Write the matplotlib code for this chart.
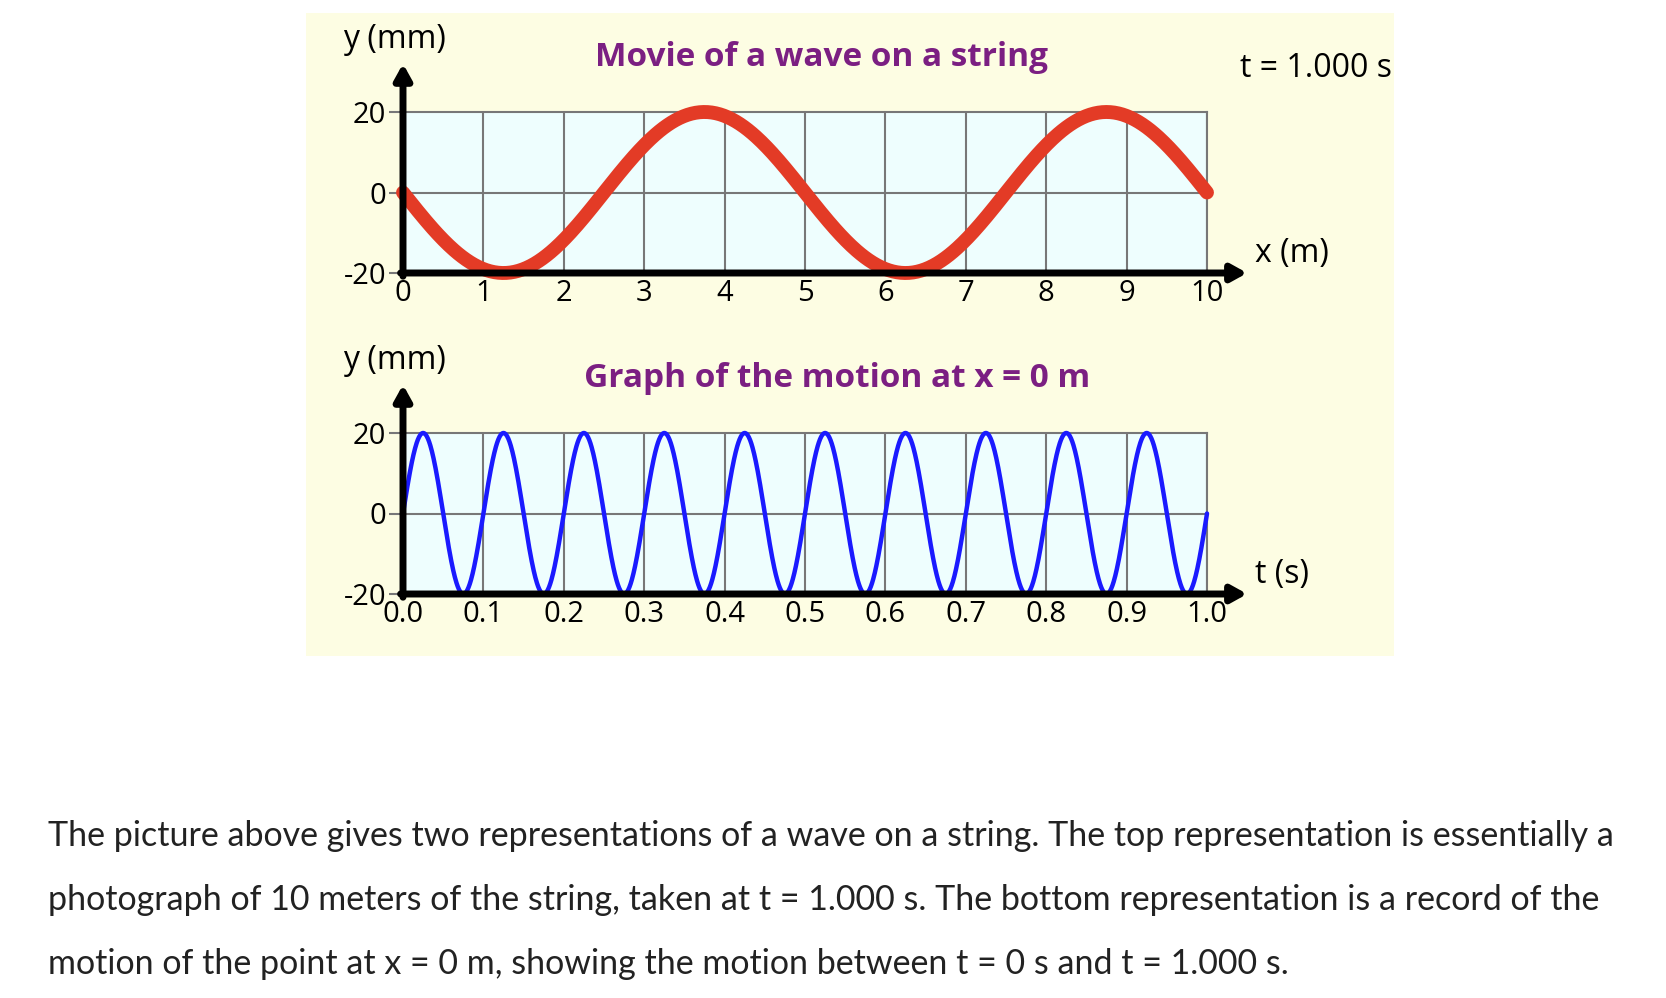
import numpy as np
import matplotlib
matplotlib.use("Agg")
import matplotlib.pyplot as plt
from matplotlib.patches import Rectangle

# data
x_ticks = [0, 1, 2, 3, 4, 5, 6, 7, 8, 9, 10]
t_ticks = [0.0, 0.1, 0.2, 0.3, 0.4, 0.5, 0.6, 0.7, 0.8, 0.9, 1.0]
y_ticks = [-20, 0, 20]
amplitude_mm = 20
wavelength_m = 5.0
period_s = 0.1
x_vals = np.linspace(0, 10, 600)
t_vals = np.linspace(0, 1.0, 2000)
y_string = -amplitude_mm * np.sin(2 * np.pi * x_vals / wavelength_m)
y_motion = amplitude_mm * np.sin(2 * np.pi * t_vals / period_s)

W, H = 1666, 998
fig = plt.figure(figsize=(W / 100, H / 100), dpi=100)
fig.patch.set_facecolor("white")
FONT = "Open Sans"

fig.patches.append(Rectangle((306 / W, 1 - 656 / H), 1088 / W, 643 / H,
                             transform=fig.transFigure, facecolor="#fdfde3",
                             edgecolor="none", zorder=-5))

def panel(bottom_px, xs, ys, ticks, labels, color, lw, xlabel, title, title_x):
    left, right, top, bot = 403, 1207, bottom_px - 161, bottom_px
    ax = fig.add_axes([left / W, 1 - bot / H, (right - left) / W, (bot - top) / H])
    ax.set_zorder(2)
    ax.set_facecolor("#eefefe")
    ax.set_xlim(ticks[0], ticks[-1])
    ax.set_ylim(-20, 20)
    for s in ["top", "right"]:
        ax.spines[s].set_color("#777777")
        ax.spines[s].set_linewidth(1.5)
    for s in ["left", "bottom"]:
        ax.spines[s].set_visible(False)
    for v in ticks[1:]:
        ax.axvline(v, color="#777777", lw=1.5, zorder=1)
    ax.axhline(0, color="#777777", lw=1.5, zorder=1)
    ax.set_xticks(ticks)
    ax.set_xticklabels(labels, fontsize=21, family=FONT)
    ax.set_yticks(y_ticks)
    ax.set_yticklabels([str(v) for v in y_ticks], fontsize=21, family=FONT)
    ax.tick_params(axis="y", length=10, width=1.5, color="#777777", pad=2)
    ax.tick_params(axis="x", length=0, pad=4)
    ax.plot(xs, ys, color=color, lw=lw, solid_capstyle="round", zorder=3, clip_on=False)
    ax.annotate("", xy=(0, 1.3), xytext=(0, -0.02), xycoords="axes fraction",
                arrowprops=dict(arrowstyle="-|>,head_width=0.5,head_length=0.9",
                                color="black", lw=5, shrinkA=0, shrinkB=0), zorder=4)
    ax.annotate("", xy=(1.05, 0), xytext=(-0.003, 0), xycoords="axes fraction",
                arrowprops=dict(arrowstyle="-|>,head_width=0.5,head_length=0.9",
                                color="black", lw=5, shrinkA=0, shrinkB=0), zorder=4)
    ax.text(1.06, 0.02, xlabel, transform=ax.transAxes, fontsize=23, family=FONT,
            va="bottom", ha="left")
    ax.text(-0.075, 1.45, "y (mm)", transform=ax.transAxes, fontsize=23, family=FONT,
            va="center", ha="left")
    ax.text(title_x, 1.34, title, transform=ax.transAxes, fontsize=24, family=FONT,
            fontweight="bold", color="#7b1f82", va="center", ha="center")
    return ax

ax1 = panel(273, x_vals, y_string, x_ticks, [str(v) for v in x_ticks],
            "#e33b26", 10, "x (m)", "Movie of a wave on a string", 0.52)
ax1.text(1.23, 1.27, "t = 1.000 s", transform=ax1.transAxes, fontsize=23,
         family=FONT, va="center", ha="right")
ax2 = panel(594, t_vals, y_motion, t_ticks, [f"{v:.1f}" for v in t_ticks],
            "#1a1aff", 3.2, "t (s)", "Graph of the motion at x = 0 m", 0.54)

para = ["The picture above gives two representations of a wave on a string. The top representation is essentially a",
        "photograph of 10 meters of the string, taken at t = 1.000 s. The bottom representation is a record of the",
        "motion of the point at x = 0 m, showing the motion between t = 0 s and t = 1.000 s."]
for i, line in enumerate(para):
    fig.text(48 / W, 1 - (836 + 64 * i) / H, line, fontsize=24.5, family="Lato",
             va="center", ha="left", color="#222222")

fig.savefig("out.png", dpi=100)
